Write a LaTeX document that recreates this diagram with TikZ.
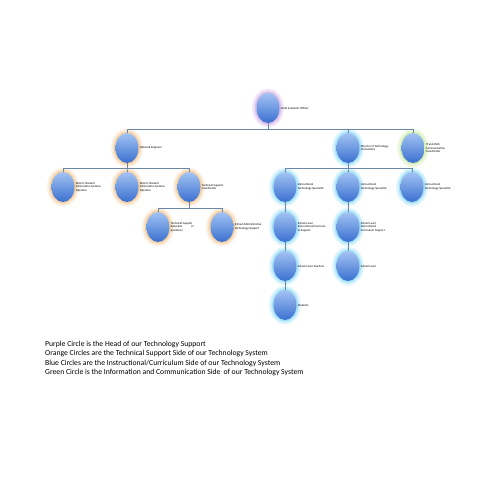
\documentclass[tikz,border=0pt]{standalone}
\usepackage{fontspec}
\setmainfont{Carlito}
\usetikzlibrary{shapes.geometric}

\definecolor{ctop}{HTML}{A3C3F3}
\definecolor{cbot}{HTML}{3A70D0}
\definecolor{gpurple}{HTML}{C9A2E0}
\definecolor{gorange}{HTML}{F0BE80}
\definecolor{gblue}{HTML}{7FD6F5}
\definecolor{ggreen}{HTML}{C4E89A}
\definecolor{cline}{HTML}{6A88A6}

\tikzset{
  glow/.style={preaction={draw=#1!20,line width=9pt},
               preaction={draw=#1!40,line width=6pt},
               preaction={draw=#1!70,line width=3pt}},
  ball/.style={ellipse,minimum width=23pt,minimum height=30pt,inner sep=0pt,
               top color=ctop,bottom color=cbot,draw=none},
  txt/.style={anchor=west,align=left,inner sep=1pt,
              font=\fontsize{3}{3.7}\selectfont},
}

\begin{document}
\begin{tikzpicture}[x=1pt,y=-1pt]
      \fill[white] (0,0) rectangle (495,495);
      \useasboundingbox (0,0) rectangle (495,495);
      \begin{scope}[every node/.style={ball}]
        \node[glow=gpurple] (0) at (268,108) {};
        \node[glow=gorange] (1) at (127,148) {};
        \node[glow=gblue]   (2) at (348,148) {};
        \node[glow=ggreen]  (3) at (413,148) {};
        \node[glow=gorange] (4) at (63,187) {};
        \node[glow=gorange] (5) at (127,187) {};
        \node[glow=gorange] (6) at (189,187) {};
        \node[glow=gorange] (7) at (158,227) {};
        \node[glow=gorange] (8) at (222,227) {};
        \node[glow=gblue]   (9) at (285,187) {};
        \node[glow=gblue]   (10) at (348,187) {};
        \node[glow=gblue]   (11) at (412,187) {};
        \node[glow=gblue]   (12) at (285,227) {};
        \node[glow=gblue]   (13) at (348,227) {};
        \node[glow=gblue]   (14) at (285,266) {};
        \node[glow=gblue]   (15) at (348,266) {};
        \node[glow=gblue]   (16) at (285,305) {};
      \end{scope}
      \begin{scope}[every path/.style={draw=cline,line width=0.7pt}]
        \draw (0.south) -- ++(0,6) -| (1.north);
        \draw (0.south) -- ++(0,6) -| (2.north);
        \draw (0.south) -- ++(0,6) -| (3.north);
        \draw (1.south) -- ++(0,5) -| (4.north);
        \draw (1.south) -- ++(0,5) -| (5.north);
        \draw (1.south) -- ++(0,5) -| (6.north);
        \draw (6.south) -- ++(0,6) -| (7.north);
        \draw (6.south) -- ++(0,6) -| (8.north);
        \draw (2.south) -- ++(0,5) -| (9.north);
        \draw (2.south) -- ++(0,5) -| (10.north);
        \draw (2.south) -- ++(0,5) -| (11.north);
        \draw (9) -- (12);
        \draw (12) -- (14);
        \draw (14) -- (16);
        \draw (10) -- (13);
        \draw (13) -- (15);
      \end{scope}
      \begin{scope}[every node/.style={txt}]
        \node (l0) at (0.east) {Chief Academic Officer};
        \node (l1) at (1.east) {Network Engineer};
        \node (l2) at (2.east) {Director of Technology\\Innovations};
        \node (l3) at (3.east) {IT and Web\\Communication\\Coordinator};
        \node (l4) at (4.east) {District Student\\Information Systems\\Operator};
        \node (l5) at (5.east) {District Student\\Information Systems\\Operator};
        \node (l6) at (6.east) {Technical Support\\Coordinator};
        \node (l7) at (7.east) {Technical Support\\Specialist\hspace{9pt}(4\\positions)};
        \node (l8) at (8.east) {School Administrative\\Technology Support};
        \node (l9) at (9.east) {Instructional\\Technology Specialist};
        \node (l10) at (10.east) {Instructional\\Technology Specialist};
        \node (l11) at (11.east) {Instructional\\Technology Specialist};
        \node (l12) at (12.east) {School Level\\Instructional/Curriculu\\m Support};
        \node (l13) at (13.east) {School Level\\Instructional\\Curriculum Support};
        \node (l14) at (14.east) {School Level Teachers};
        \node (l15) at (15.east) {School Level};
        \node (l16) at (16.east) {Students};
      \end{scope}
      \node[anchor=north west,align=left,inner sep=0pt,
            font=\fontsize{7.7}{9.3}\selectfont] (key) at (45,341)
        {Purple Circle is the Head of our Technology Support\\
         Orange Circles are the Technical Support Side of our Technology System\\
         Blue Circles are the Instructional/Curriculum Side of our Technology System\\
         Green Circle is the Information and Communication Side\, of our Technology System};
    \end{tikzpicture}
\end{document}
